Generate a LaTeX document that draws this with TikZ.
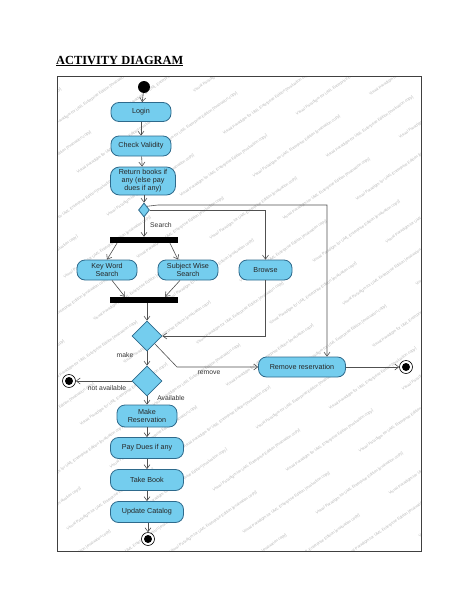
\documentclass[tikz,border=0pt]{standalone}
\usepackage{fontspec}
\setmainfont{Liberation Sans}
\newfontfamily\titlefont{Liberation Serif}
\usetikzlibrary{shapes.geometric,arrows.meta,calc}
\definecolor{actfill}{HTML}{74CDEE}
\definecolor{actdraw}{HTML}{2E6A8C}
\definecolor{lin}{HTML}{505050}
\begin{document}
\begin{tikzpicture}[x=1pt,y=-1pt,
  act/.style={rectangle, rounded corners=8pt, draw=actdraw, fill=actfill, line width=0.8pt,
    font=\fontsize{7.2}{8}\selectfont, align=center, inner sep=1pt, text=black!85},
  dec/.style={diamond, draw=actdraw, fill=actfill, line width=0.8pt, inner sep=0pt},
  bar/.style={rectangle, fill=black, inner sep=0pt, minimum width=68pt, minimum height=6pt},
  flow/.style={draw=lin, line width=0.6pt, -{Straight Barb[length=4pt,width=6pt]}},
  lbl/.style={font=\fontsize{6.8}{7}\selectfont, text=black!80, inner sep=0pt},
  initnode/.style={circle, fill=black, minimum size=12pt, inner sep=0pt},
  finalnode/.style={circle, draw=black, line width=0.6pt, fill=white, minimum size=13pt, inner sep=0pt,
    path picture={\fill[black] (path picture bounding box.center) circle (4pt);}},
  wm/.style={font=\fontsize{3.9}{4.5}\selectfont, text=gray!58, rotate=35, inner sep=0pt}
]
\useasboundingbox (0,0) rectangle (474,613);
% title
\node[anchor=base west, inner sep=0pt, font=\titlefont\bfseries\fontsize{12.4}{14}\selectfont] (title) at (56,64) {\underline{ACTIVITY DIAGRAM}};
% watermark
\begin{scope}
\clip (57,76) rectangle (421,551);
\foreach \b in {-14,...,14}{
  \foreach \a in {-3,...,3}{
    \pgfmathsetmacro\px{240 + (\a+0.5*mod(\b,2))*142*0.819 + \b*26*0.574}
    \pgfmathsetmacro\py{313 - (\a+0.5*mod(\b,2))*142*0.574 + \b*26*0.819}
    \node[wm] (wm\a\b) at (\px,\py) {Visual Paradigm for UML Enterprise Edition [evaluation copy]};
  }}
\end{scope}
% frame
\draw[draw=black!75, line width=0.9pt] (57,76) rectangle (421,551);
% nodes
\node[initnode] (init) at (144,87) {};
\node[act, minimum width=60pt, minimum height=19pt] (login) at (141,112) {Login};
\node[act, minimum width=60pt, minimum height=20pt] (check) at (141,146) {Check Validity};
\node[act, minimum width=65pt, minimum height=28pt, rounded corners=9pt] (ret) at (143,181) {Return books if\\any (else pay\\dues if any)};
\node[dec, minimum width=11pt, minimum height=14pt] (d1) at (144,210) {};
\node[bar] (fork) at (144,240) {};
\node[act, minimum width=60pt, minimum height=20pt] (kw) at (107,270) {Key Word\\Search};
\node[act, minimum width=60pt, minimum height=20pt] (sw) at (188,270) {Subject Wise\\Search};
\node[act, minimum width=53pt, minimum height=20pt] (browse) at (265.5,270) {Browse};
\node[bar] (join) at (144,300) {};
\node[dec, minimum width=30pt, minimum height=30pt] (d2) at (147,336) {};
\node[dec, minimum width=30pt, minimum height=30pt] (d3) at (147,381) {};
\node[finalnode] (finL) at (69,381) {};
\node[act, minimum width=60pt, minimum height=22pt] (make) at (147,416) {Make\\Reservation};
\node[act, minimum width=73pt, minimum height=21pt] (pay) at (147,448) {Pay Dues if any};
\node[act, minimum width=73pt, minimum height=21pt] (take) at (147,480) {Take Book};
\node[act, minimum width=73pt, minimum height=21pt] (upd) at (147,512) {Update Catalog};
\node[finalnode] (finB) at (148,539) {};
\node[act, minimum width=87pt, minimum height=20pt] (remove) at (302,367) {Remove reservation};
\node[finalnode] (finR) at (406,367) {};
% labels
\node[lbl, anchor=west] (lsearch) at (150,225) {Search};
\node[lbl] (lmake) at (125,355) {make};
\node[lbl] (lnot) at (107,388) {not available};
\node[lbl] (lavail) at (171,398) {Available};
\node[lbl] (lremove) at (209,373) {remove};
% connectors
\draw[flow] (init) -- (login);
\draw[flow] (login) -- (check);
\draw[flow] (check) -- (ret);
\draw[flow] (ret.south -| d1.north) -- (d1.north);
\draw[flow] (d1) -- (fork);
\draw[flow] ($(fork.south)+(-27,0)$) -- (kw.north);
\draw[flow] ($(fork.south)+(26,0)$) -- ($(sw.north)+(-10,0)$);
\draw[flow] ($(kw.south)+(5,0)$) -- ($(join.north)+(-19,0)$);
\draw[flow] ($(sw.south)+(-8,0)$) -- ($(join.north)+(21,0)$);
\draw[flow] (d1.east) -- (d1.east -| browse.north) -- (browse.north);
\coordinate (rtop) at ($(remove.north)+(25,0)$);
\draw[flow] (d1.north east) -- (158,205) -- (rtop |- 0,205) -- (rtop);
\draw[flow] (browse.south) -- (browse.south |- d2.east) -- (d2.east);
\draw[flow] (d2.north |- join.south) -- (d2.north);
\draw[flow] (d2) -- (d3);
\draw[flow] (d2.south east) -- (177,367) -- (remove.west);
\draw[flow] (remove.east) -- (finR);
\draw[flow] (d3.west) -- (finL);
\draw[flow] (d3) -- (make);
\draw[flow] (make) -- (pay);
\draw[flow] (pay) -- (take);
\draw[flow] (take) -- (upd);
\draw[flow] (upd.south -| finB.north) -- (finB);
\end{tikzpicture}
\end{document}
